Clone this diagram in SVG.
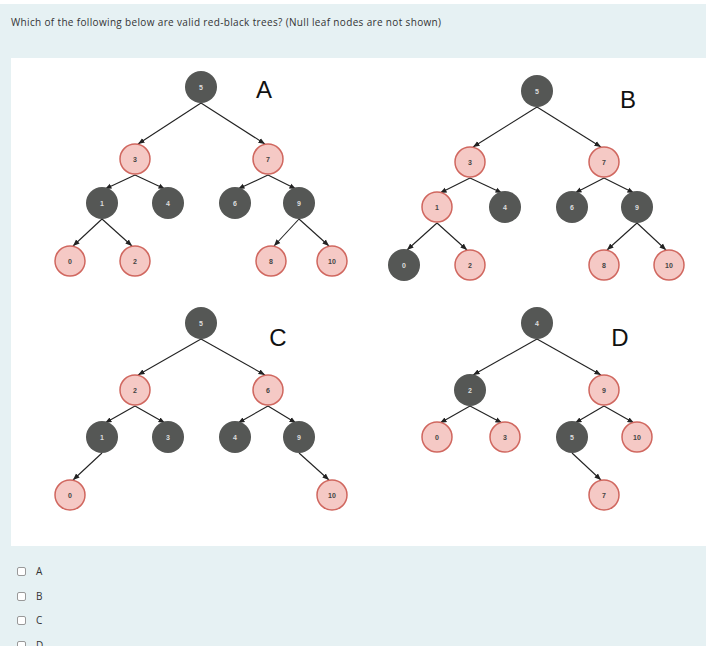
<svg xmlns="http://www.w3.org/2000/svg" width="706" height="646" viewBox="0 0 706 646">
<style>
.b{fill:#555755}
.r{fill:#f5c9c5;stroke:#d0675f;stroke-width:1.5}
.t{font-family:"Liberation Sans",Arial,sans-serif;font-size:7px;font-weight:bold;text-anchor:middle}
.tb{fill:#ddd}.tr{fill:#444}
.e line{stroke:#222;stroke-width:1.1;marker-end:url(#a)}
.L{font-family:"Liberation Sans",Arial,sans-serif;font-size:24px;fill:#111;text-anchor:middle}
.q{font-family:"Open Sans","Liberation Sans",sans-serif;font-size:10px;fill:#333}
.cb{fill:#fff;stroke:#999;stroke-width:1;rx:1.5}
</style>
<defs><marker id="a" viewBox="0 0 10 10" refX="10" refY="5" markerWidth="6" markerHeight="6" orient="auto"><path d="M0,1 L10,5 L0,9z" fill="#222"/></marker></defs>
<rect width="706" height="646" fill="#e6f1f3"/>
<rect width="706" height="4" fill="#fff"/>
<text class="q" x="11" y="26" textLength="430" lengthAdjust="spacing">Which of the following below are valid red-black trees? (Null leaf nodes are not shown)</text>
<rect x="11" y="58" width="695" height="488" fill="#fff"/>
<g class="e" id="edges">
<line x1="201" y1="103" x2="138" y2="144"/><line x1="201" y1="103" x2="265" y2="144"/>
<line x1="135" y1="175" x2="105" y2="189"/><line x1="135" y1="175" x2="165" y2="189"/>
<line x1="268" y1="175" x2="238" y2="189"/><line x1="268" y1="175" x2="296" y2="189"/>
<line x1="102" y1="219" x2="73" y2="246"/><line x1="102" y1="219" x2="132" y2="246"/>
<line x1="299" y1="219" x2="274" y2="246"/><line x1="299" y1="219" x2="329" y2="246"/>
<line x1="537" y1="107" x2="473" y2="147"/><line x1="537" y1="107" x2="601" y2="147"/>
<line x1="470" y1="178" x2="440" y2="193"/><line x1="470" y1="178" x2="502" y2="193"/>
<line x1="604" y1="178" x2="575" y2="193"/><line x1="604" y1="178" x2="634" y2="193"/>
<line x1="437" y1="223" x2="407" y2="250"/><line x1="437" y1="223" x2="467" y2="250"/>
<line x1="637" y1="223" x2="607" y2="250"/><line x1="637" y1="223" x2="666" y2="250"/>
<line x1="201" y1="339" x2="138" y2="375"/><line x1="201" y1="339" x2="265" y2="375"/>
<line x1="135" y1="406" x2="105" y2="423"/><line x1="135" y1="406" x2="165" y2="423"/>
<line x1="268" y1="406" x2="238" y2="423"/><line x1="268" y1="406" x2="296" y2="423"/>
<line x1="102" y1="453" x2="73" y2="480"/><line x1="299" y1="453" x2="329" y2="480"/>
<line x1="537" y1="339" x2="473" y2="375"/><line x1="537" y1="339" x2="601" y2="375"/>
<line x1="470" y1="406" x2="440" y2="423"/><line x1="470" y1="406" x2="502" y2="423"/>
<line x1="604" y1="406" x2="575" y2="423"/><line x1="604" y1="406" x2="634" y2="423"/>
<line x1="572" y1="453" x2="601" y2="480"/>
</g>
<text class="L" x="264" y="98">A</text><text class="L" x="628" y="108">B</text>
<text class="L" x="278" y="346">C</text><text class="L" x="620" y="346">D</text>
<g id="A5"><circle class="b" cx="201" cy="87" r="16"/><text class="t tb" x="201" y="90">5</text></g>
<g id="A3"><circle class="r" cx="135" cy="159" r="15"/><text class="t tr" x="135" y="162">3</text></g>
<g id="A7"><circle class="r" cx="268" cy="159" r="15"/><text class="t tr" x="268" y="162">7</text></g>
<g id="A1"><circle class="b" cx="102" cy="203" r="16"/><text class="t tb" x="102" y="206">1</text></g>
<g id="A4"><circle class="b" cx="168" cy="203" r="16"/><text class="t tb" x="168" y="206">4</text></g>
<g id="A6"><circle class="b" cx="235" cy="203" r="16"/><text class="t tb" x="235" y="206">6</text></g>
<g id="A9"><circle class="b" cx="299" cy="203" r="16"/><text class="t tb" x="299" y="206">9</text></g>
<g id="A0"><circle class="r" cx="70" cy="261" r="15"/><text class="t tr" x="70" y="264">0</text></g>
<g id="A2"><circle class="r" cx="135" cy="261" r="15"/><text class="t tr" x="135" y="264">2</text></g>
<g id="A8"><circle class="r" cx="271" cy="261" r="15"/><text class="t tr" x="271" y="264">8</text></g>
<g id="A10"><circle class="r" cx="332" cy="261" r="15"/><text class="t tr" x="332" y="264">10</text></g>
<g id="B5"><circle class="b" cx="537" cy="91" r="16"/><text class="t tb" x="537" y="94">5</text></g>
<g id="B3"><circle class="r" cx="470" cy="162" r="15"/><text class="t tr" x="470" y="165">3</text></g>
<g id="B7"><circle class="r" cx="604" cy="162" r="15"/><text class="t tr" x="604" y="165">7</text></g>
<g id="B1"><circle class="r" cx="437" cy="207" r="15"/><text class="t tr" x="437" y="210">1</text></g>
<g id="B4"><circle class="b" cx="505" cy="207" r="16"/><text class="t tb" x="505" y="210">4</text></g>
<g id="B6"><circle class="b" cx="572" cy="207" r="16"/><text class="t tb" x="572" y="210">6</text></g>
<g id="B9"><circle class="b" cx="637" cy="207" r="16"/><text class="t tb" x="637" y="210">9</text></g>
<g id="B0"><circle class="b" cx="404" cy="265" r="16"/><text class="t tb" x="404" y="268">0</text></g>
<g id="B2"><circle class="r" cx="470" cy="265" r="15"/><text class="t tr" x="470" y="268">2</text></g>
<g id="B8"><circle class="r" cx="604" cy="265" r="15"/><text class="t tr" x="604" y="268">8</text></g>
<g id="B10"><circle class="r" cx="669" cy="265" r="15"/><text class="t tr" x="669" y="268">10</text></g>
<g id="C5"><circle class="b" cx="201" cy="323" r="16"/><text class="t tb" x="201" y="326">5</text></g>
<g id="C2"><circle class="r" cx="135" cy="390" r="15"/><text class="t tr" x="135" y="393">2</text></g>
<g id="C6"><circle class="r" cx="268" cy="390" r="15"/><text class="t tr" x="268" y="393">6</text></g>
<g id="C1"><circle class="b" cx="102" cy="437" r="16"/><text class="t tb" x="102" y="440">1</text></g>
<g id="C3"><circle class="b" cx="168" cy="437" r="16"/><text class="t tb" x="168" y="440">3</text></g>
<g id="C4"><circle class="b" cx="235" cy="437" r="16"/><text class="t tb" x="235" y="440">4</text></g>
<g id="C9"><circle class="b" cx="299" cy="437" r="16"/><text class="t tb" x="299" y="440">9</text></g>
<g id="C0"><circle class="r" cx="70" cy="495" r="15"/><text class="t tr" x="70" y="498">0</text></g>
<g id="C10"><circle class="r" cx="332" cy="495" r="15"/><text class="t tr" x="332" y="498">10</text></g>
<g id="D4"><circle class="b" cx="537" cy="323" r="16"/><text class="t tb" x="537" y="326">4</text></g>
<g id="D2"><circle class="b" cx="470" cy="390" r="16"/><text class="t tb" x="470" y="393">2</text></g>
<g id="D9"><circle class="r" cx="604" cy="390" r="15"/><text class="t tr" x="604" y="393">9</text></g>
<g id="D0"><circle class="r" cx="437" cy="437" r="15"/><text class="t tr" x="437" y="440">0</text></g>
<g id="D3"><circle class="r" cx="505" cy="437" r="15"/><text class="t tr" x="505" y="440">3</text></g>
<g id="D5"><circle class="b" cx="572" cy="437" r="16"/><text class="t tb" x="572" y="440">5</text></g>
<g id="D10"><circle class="r" cx="637" cy="437" r="15"/><text class="t tr" x="637" y="440">10</text></g>
<g id="D7"><circle class="r" cx="604" cy="495" r="15"/><text class="t tr" x="604" y="498">7</text></g>
<g id="opts">
<rect class="cb" x="17.5" y="567.5" width="8" height="8"/><text class="q" x="36" y="575">A</text>
<rect class="cb" x="17.5" y="592.5" width="8" height="8"/><text class="q" x="36" y="600">B</text>
<rect class="cb" x="17.5" y="616.5" width="8" height="8"/><text class="q" x="36" y="624">C</text>
<rect class="cb" x="17.5" y="641.5" width="8" height="8"/><text class="q" x="36" y="649">D</text>
</g>
</svg>
